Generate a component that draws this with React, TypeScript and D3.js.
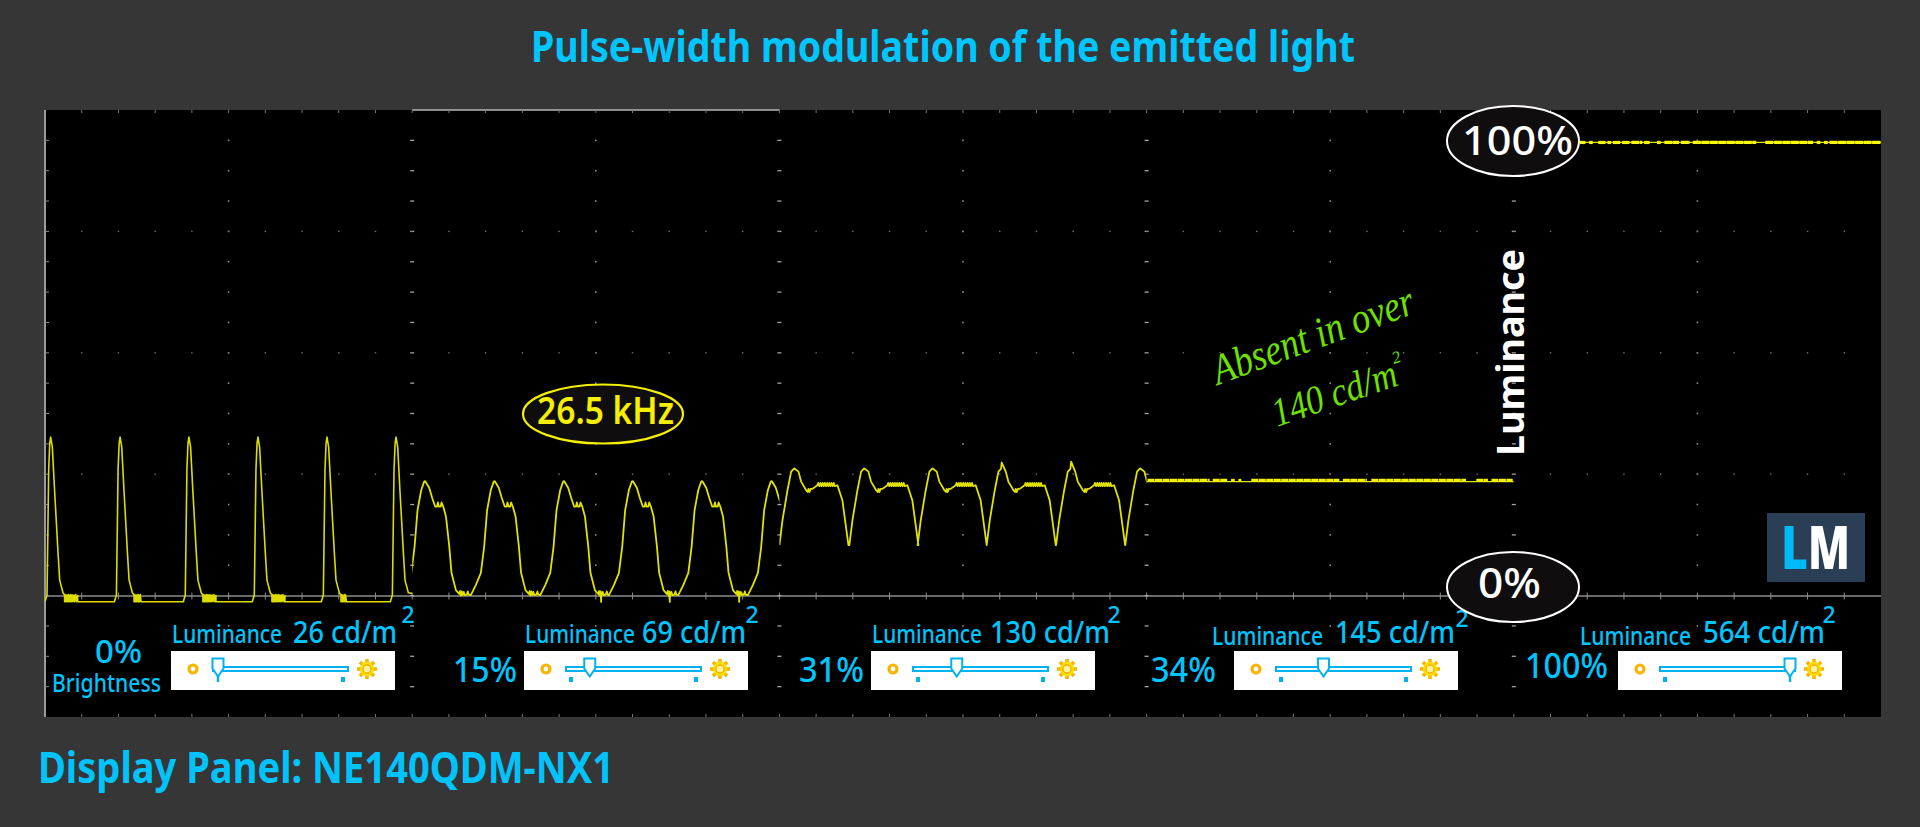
import React from "react";
import * as d3 from "d3";

type P = [number, number];

// Time in microseconds (20 µs per division, 5 captures of 200 µs), luminance in %
const captureStarts = [0, 200, 400, 600, 800];

// Capture 1 : 0% brightness
const peaks1 = [3.1, 40.9, 78.4, 116, 153.6, 191.2];
const shape1: P[] = [[-3.1, -1.25], [-2.0, 0.2], [-1.1, 27.8], [-0.5, 33.7], [0, 35], [0.9, 32.8], [2.2, 22.7], [4, 9.5], [4.9, 3.5], [6.7, 0.7]];
const noise1: P[] = [[7.6, 0.2], [7.6, -1.25], [8.0, -1.25], [8.0, 0.3], [8.4, 0.1], [8.4, -1.25], [8.9, -1.25], [8.9, 0.2], [9.3, -0.6], [9.7, 0.3], [9.7, -1.25], [10.1, -1.25], [10.1, 0.2], [10.6, -1.25], [11, 0.3], [11.4, -1.25], [11.8, 0.2], [12.2, -1.25], [12.7, 0.2], [13.1, -1.25], [13.6, 0.3], [14.1, -1.25], [14.7, 0.1], [14.7, -1.25]];
const noiseEnd1 = [14.7, 11.4, 14.7, 14.7, 10.6, 5];
const tailEnd1 = 34.6;

// Capture 2 : 15% brightness
const peaks2 = [7.1, 45, 82.8, 120.2, 158, 195.9];
const shape2: P[] = [[-13.07, 0.2], [-10.35, 2.4], [-7.6, 5.1], [-5.8, 10.9], [-4.2, 18.9], [-2.2, 23.3], [-0.6, 25.2], [0, 25.3], [0.6, 24.9], [2.2, 23.8], [3.8, 21.6], [5.4, 19.7], [6.4, 19.7], [6.9, 20.6], [7.4, 19.7], [8.4, 19.7], [8.9, 20.6], [9.8, 19.7], [11.3, 17.5], [13.1, 10.9], [14.3, 5.1], [16.7, 1.3], [18.5, 0.44], [19, 1.1], [19.4, 0.1], [19.9, 1], [20.4, 0.2], [21, 0.9], [21.5, 0.2], [22.6, 0.3], [23.2, 1], [23.7, 0.3]];
const dips2 = [false, false, true, true, true, false];

// Capture 3 : 31% brightness
const peaks3 = [8.2, 46.3, 83.5, 121.1, 158.9, 196.6];
const peakHeights3 = [28.1, 28.1, 28.1, 29.4, 29.6, 28.1];
const shape3: P[] = [[-8.2, 11.2], [-6.5, 16.7], [-3.8, 23.3], [-1.8, 27.4], [-0.4, 28], [2.2, 27.4], [3.6, 25.2], [6.4, 23.3], [7.2, 22.9], [7.6, 23.6], [8.2, 22.9], [8.8, 23.6], [9.8, 23.6], [12.5, 24.4], [13, 24.9], [13.6, 24.2], [14.2, 24.9], [14.8, 24.2], [15.4, 24.9], [16, 24.2], [16.6, 24.9], [17.2, 24.2], [17.8, 24.9], [18.4, 24.2], [19, 24.9], [19.6, 24.2], [20.2, 24.9], [20.8, 24.2], [21.4, 24.9], [22, 24.2], [23.4, 24.4], [26.1, 21.1], [29.4, 11.2]];

// Capture 4 : 34% brightness (no PWM), capture 5 : 100%
const level4 = 25.2;
const thick4: P[] = [[0.5, 34.3], [36, 44], [46, 48], [50, 51.6], [57, 105], [106.9, 120], [122.4, 174], [179.6, 185.9], [187.8, 199.4]];
const level5 = 99.9;
const thick5: P[] = [[36, 39], [41, 43], [46, 50], [51, 53], [54, 58], [59, 63], [64, 70], [71, 74], [78, 80], [82, 90], [91, 96], [97.5, 132], [137, 163], [165, 167], [169, 171], [172, 200]];

// Annotation texts
const luminanceValues = [26, 69, 130, 145, 564];
const brightnessValues = [0, 15, 31, 34, 100];
const boxLefts = [171, 524, 871, 1234, 1618];
const lumLabelX: P[] = [[172, 282], [525, 635], [872, 982], [1212, 1323], [1580, 1691]];
const lumValueX: P[] = [[293, 397], [642, 746], [990, 1110], [1335, 1455], [1703, 1825]];
const supX = [408, 752, 1114, 1462, 1829];
const lumLabelY = [643, 643, 643, 645, 645];
const pctX: P[] = [[95, 142], [453, 517], [799, 864], [1151, 1216], [1525, 1608]];
const pctY = [663, 682, 682, 682, 678];

const X0 = 45, X1 = 1881, Y0 = 110, Y1 = 717;
const x = d3.scaleLinear().domain([0, 1000]).range([X0, X1]);
// 0% at the zero line, 100% at the capture 5 level
const y = d3.scaleLinear().domain([0, 100]).range([596, 142]);
const sliderPos = d3.scaleLinear().domain([0, 100]).range([47, 172]);

const xDiv = d3.range(0, 51).map((i) => X0 + (i * (X1 - X0)) / 50);
const yDiv = d3.range(0, 21).map((i) => Y0 + (i * (Y1 - Y0)) / 20);

const byT = (a: P, b: P) => a[0] - b[0];
const trace1: P[] = peaks1.flatMap((p, i) =>
  [...shape1, ...noise1.filter((n) => n[0] <= noiseEnd1[i]), [tailEnd1, -1.25] as P].map(([t, v]) => [p + t, v] as P)
);
const trace2: P[] = peaks2.flatMap((p, i) =>
  [...shape2, ...(dips2[i] ? ([[20.1, -1.3], [20.2, 0.3]] as P[]) : [])].sort(byT).map(([t, v]) => [p + t, v] as P)
);
const trace3: P[] = peaks3.flatMap((p, i) =>
  [...shape3.slice(0, 4), [0, peakHeights3[i]] as P, ...shape3.slice(4)].sort(byT).map(([t, v]) => [p + t, v] as P)
);
const flat4: P[] = [[0, level4], [200, level4]];
const flat5: P[] = [[0, level5], [200, level5]];

const lineFor = (off: number) =>
  d3.line<P>().x((d) => x(d[0] + off)).y((d) => y(d[1]));

const FONT = "'Noto Sans', 'Open Sans', sans-serif";
const CYAN = "#00c4fb";
const BLUE = "#00b2ee";
const GREY = "#8c8c8c";

const T = (p: any) => <text fontFamily={FONT} lengthAdjust="spacingAndGlyphs" {...p} />;

function Slider({ left, pct }: { left: number; pct: number }) {
  const top = 651;
  const cy = 669;
  const tx = left + sliderPos(pct);
  const gy = cy;
  const gx = left + 196;
  return (
    <g>
      <rect x={left} y={top} width={224} height={39} fill="#fff" />
      <circle cx={left + 22} cy={cy} r={4} fill="#fff" stroke="#f7b500" strokeWidth={3.2} />
      <rect x={left + 42} y={cy - 2} width={135} height={4} fill="#fff" stroke={BLUE} strokeWidth={2} />
      {pct < 100 && <rect x={left + 170} y={cy + 8} width={4} height={5} fill={BLUE} />}
      {pct > 0 && <rect x={left + 45} y={cy + 8} width={4} height={5} fill={BLUE} />}
      <path
        d={`M${tx - 5.5},${cy - 10.5}h11v10l-5.5,8l-5.5,-8z`}
        fill="#fff"
        stroke={BLUE}
        strokeWidth={2}
      />
      {(pct === 0 || pct === 100) && <line x1={tx} x2={tx} y1={cy + 7} y2={cy + 13} stroke={BLUE} strokeWidth={2.5} />}
      {d3.range(0, 8).map((i) => (
        <rect
          key={i}
          x={gx - 1.8}
          y={gy - 10}
          width={3.6}
          height={4.5}
          fill="#f7b500"
          transform={`rotate(${i * 45} ${gx} ${gy})`}
        />
      ))}
      <circle cx={gx} cy={gy} r={7.2} fill="#ffdc00" />
      <circle cx={gx} cy={gy} r={4} fill="#fff3a0" stroke="#f2b400" strokeWidth={1.4} />
    </g>
  );
}

export default function App() {
  return (
    <svg
      width={1920}
      height={827}
      style={{ position: "fixed", left: 0, top: 0, display: "block" }}
    >
      <rect width={1920} height={827} fill="#363636" />
      <rect x={X0} y={Y0} width={X1 - X0} height={Y1 - Y0} fill="#000" />

      <defs>
        {captureStarts.map((s, i) => (
          <clipPath id={`cap${i}`} key={s}>
            <rect x={x(s)} y={Y0} width={x(s + 200) - x(s)} height={Y1 - Y0} />
          </clipPath>
        ))}
      </defs>

      {/* Scope graticule */}
      <g stroke={GREY} fill="none">
        <line x1={X0} x2={X0} y1={Y0} y2={Y1} strokeWidth={2} stroke="#9a9a9a" />
        <line x1={x(200)} x2={x(400)} y1={Y0} y2={Y0} strokeWidth={1.5} stroke="#b5b5b5" />
        <line x1={X0} x2={X1} y1={y(0)} y2={y(0)} strokeWidth={1.6} />
        {xDiv.slice(1, -1).map((v, i) => (
          <g key={i}>
            <line x1={v} x2={v} y1={y(0) - 3.5} y2={y(0) + 3.5} strokeWidth={1} />
            <line x1={v} x2={v} y1={Y0} y2={Y0 + 3} strokeWidth={1} stroke="#777" />
            <line x1={v} x2={v} y1={Y1 - 3} y2={Y1} strokeWidth={1} stroke="#777" />
          </g>
        ))}
        {yDiv.slice(1, -1).map((v, i) => (
          <g key={i}>
            <line x1={X0} x2={X0 + 4} y1={v} y2={v} strokeWidth={1} />
            {[1, 2, 3, 4].map((k) => (
              <line key={k} x1={x(k * 200) - 2} x2={x(k * 200) + 2} y1={v} y2={v} strokeWidth={1.3} stroke="#a5a5a5" />
            ))}
            {[0, 1, 2, 3, 4].map((k) => (
              <rect key={k} x={x(k * 200 + 100) - 0.8} y={v - 0.8} width={1.6} height={1.6} fill="#8a8a8a" stroke="none" />
            ))}
          </g>
        ))}
        {[4, 8, 12].map((k) =>
          xDiv.slice(1, -1).map((v, i) => (
            <rect key={`${k}-${i}`} x={v - 0.7} y={Y0 + k * ((Y1 - Y0) / 20) - 0.7} width={1.4} height={1.4} fill="#6f6f6f" stroke="none" />
          ))
        )}
      </g>

      {/* Traces */}
      <g fill="none" strokeLinejoin="round">
        <path clipPath="url(#cap0)" d={lineFor(captureStarts[0])(trace1)!} stroke="#dcdc00" strokeWidth={1.6} />
        <path clipPath="url(#cap1)" d={lineFor(captureStarts[1])(trace2)!} stroke="#e2e200" strokeWidth={1.8} />
        <path clipPath="url(#cap2)" d={lineFor(captureStarts[2])(trace3)!} stroke="#e2e200" strokeWidth={1.8} />
        <path clipPath="url(#cap3)" d={lineFor(captureStarts[3])(flat4)!} stroke="#e2e200" strokeWidth={1.3} />
        {thick4.map(([a, b], i) => (
          <line key={i} x1={x(600 + a)} x2={x(600 + b)} y1={y(level4 + 0.3)} y2={y(level4 + 0.3)} stroke="#f2f200" strokeWidth={2.8} strokeDasharray="7 0.5" />
        ))}
        <path clipPath="url(#cap4)" d={lineFor(captureStarts[4])(flat5)!} stroke="#e2e200" strokeWidth={1.3} />
        {thick5.map(([a, b], i) => (
          <line key={i} x1={x(800 + a)} x2={x(800 + b)} y1={y(level5)} y2={y(level5)} stroke="#fafa00" strokeWidth={3.2} strokeDasharray="8 0.5" />
        ))}
      </g>

      {/* Title and footer */}
      <T x={531} y={62} fontSize={43} fontWeight={700} fill="#00c6ff" textLength={824}>Pulse-width modulation of the emitted light</T>
      <T x={38} y={783} fontSize={43} fontWeight={700} fill="#00c3fb" textLength={576}>Display Panel: NE140QDM-NX1</T>

      {/* Brightness captions */}
      {luminanceValues.map((v, i) => (
        <g key={v} fill={CYAN}>
          <T x={lumLabelX[i][0]} y={lumLabelY[i]} fontSize={26} fontWeight={500} fill={CYAN} textLength={lumLabelX[i][1] - lumLabelX[i][0]}>Luminance</T>
          <T x={lumValueX[i][0]} y={643} fontSize={31} fontWeight={500} fill={CYAN} textLength={lumValueX[i][1] - lumValueX[i][0]}>{`${v} cd/m`}</T>
          <T x={supX[i]} y={i === 3 ? 627 : 623} fontSize={23} fontWeight={500} fill={CYAN} textAnchor="middle">2</T>
          <T x={pctX[i][0]} y={pctY[i]} fontSize={i === 0 ? 32 : 34} fontWeight={500} fill={CYAN} textLength={pctX[i][1] - pctX[i][0]}>{`${brightnessValues[i]}%`}</T>
          <Slider left={boxLefts[i]} pct={brightnessValues[i]} />
        </g>
      ))}
      <T x={52} y={692} fontSize={25} fontWeight={500} fill={CYAN} textLength={109}>Brightness</T>

      {/* Callouts */}
      <ellipse cx={603} cy={414} rx={80} ry={29.5} fill="#0f0d0e" stroke="#f4f000" strokeWidth={2.2} />
      <T x={537} y={424} fontSize={38} fontWeight={600} fill="#f6f000" textLength={137}>26.5 kHz</T>

      <ellipse cx={1513} cy={141} rx={66} ry={35} fill="#0f0d0e" stroke="#fff" strokeWidth={2} />
      <T x={1462} y={155} fontSize={40} fontWeight={500} fill="#fff" textLength={111}>100%</T>
      <ellipse cx={1513} cy={587} rx={66} ry={35} fill="#0f0d0e" stroke="#fff" strokeWidth={2} />
      <T x={1478} y={598} fontSize={41} fontWeight={500} fill="#fff" textLength={63}>0%</T>

      <T
        transform="translate(1524 456) rotate(-90)"
        fontSize={38}
        fontWeight={700}
        fill="#fff"
        textLength={207}
      >
        Luminance
      </T>

      <g fontFamily="'Liberation Serif', serif" fontStyle="italic" fill="#6fe000">
        <text transform="translate(1218 385) rotate(-20)" fontSize={43} textLength={212} lengthAdjust="spacingAndGlyphs">Absent in over</text>
        <text transform="translate(1277 427) rotate(-19)" fontSize={40} textLength={130} lengthAdjust="spacingAndGlyphs">140 cd/m</text>
        <text transform="translate(1394 364) rotate(-19)" fontSize={17}>2</text>
      </g>

      {/* Logo */}
      <rect x={1767} y={513} width={98} height={69} fill="#2a3f55" />
      <text x={1781} y={569} fontFamily="'Open Sans', sans-serif" fontWeight={800} fontSize={60} fill="#00b9f7" textLength={27} lengthAdjust="spacingAndGlyphs">L</text>
      <text x={1808} y={569} fontFamily="'Open Sans', sans-serif" fontWeight={800} fontSize={60} fill="#fff" textLength={42} lengthAdjust="spacingAndGlyphs">M</text>
    </svg>
  );
}
